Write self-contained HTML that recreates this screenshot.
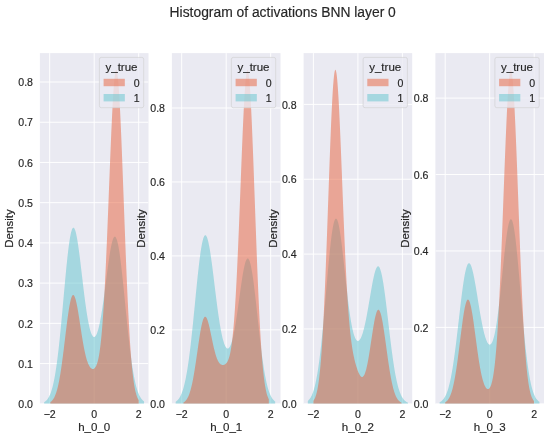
<!DOCTYPE html>
<html lang="en"><head><meta charset="utf-8"><title>Histogram of activations BNN layer 0</title>
<style>html,body{margin:0;padding:0;background:#fff}svg{display:block}text{stroke:#262626;stroke-width:0.16px;paint-order:stroke fill}</style></head>
<body>
<svg width="550" height="437" viewBox="0 0 550 437" font-family="Liberation Sans, sans-serif" fill="#262626">
<rect width="550" height="437" fill="#fff"/>
<text x="282.7" y="17.1" font-size="13.85" text-anchor="middle">Histogram of activations BNN layer 0</text>
<g>
<text transform="translate(13.0,228.5) rotate(-90)" font-size="11.54" text-anchor="middle">Density</text>
<rect x="39.9" y="53.1" width="108.6" height="350.7" fill="#eaeaf2"/>
<clipPath id="c0"><rect x="39.9" y="53.1" width="108.6" height="350.7"/></clipPath>
<path d="M49.70,53.1V403.8M94.20,53.1V403.8M138.70,53.1V403.8M39.9,403.80H148.5M39.9,363.57H148.5M39.9,323.35H148.5M39.9,283.12H148.5M39.9,242.90H148.5M39.9,202.68H148.5M39.9,162.45H148.5M39.9,122.23H148.5M39.9,82.00H148.5" stroke="#fff" stroke-width="0.96" fill="none" clip-path="url(#c0)"/>
<path d="M44.14,403.80L44.14,402.15L44.59,401.89L45.05,401.59L45.51,401.25L45.96,400.87L46.42,400.44L46.87,399.96L47.33,399.41L47.79,398.80L48.24,398.12L48.70,397.36L49.16,396.52L49.61,395.59L50.07,394.56L50.52,393.42L50.98,392.17L51.44,390.80L51.89,389.31L52.35,387.68L52.80,385.90L53.26,383.99L53.72,381.91L54.17,379.68L54.63,377.28L55.09,374.71L55.54,371.96L56.00,369.04L56.45,365.94L56.91,362.66L57.37,359.20L57.82,355.56L58.28,351.75L58.74,347.77L59.19,343.62L59.65,339.32L60.10,334.87L60.56,330.29L61.02,325.59L61.47,320.77L61.93,315.87L62.38,310.89L62.84,305.86L63.30,300.80L63.75,295.72L64.21,290.65L64.67,285.63L65.12,280.66L65.58,275.77L66.03,271.00L66.49,266.36L66.95,261.88L67.40,257.59L67.86,253.51L68.31,249.66L68.77,246.07L69.23,242.76L69.68,239.73L70.14,237.02L70.60,234.64L71.05,232.60L71.51,230.90L71.96,229.57L72.42,228.59L72.88,227.98L73.33,227.74L73.79,227.86L74.25,228.33L74.70,229.16L75.16,230.32L75.61,231.81L76.07,233.61L76.53,235.70L76.98,238.07L77.44,240.70L77.89,243.56L78.35,246.63L78.81,249.88L79.26,253.31L79.72,256.87L80.18,260.55L80.63,264.31L81.09,268.15L81.54,272.02L82.00,275.92L82.46,279.81L82.91,283.68L83.37,287.50L83.82,291.27L84.28,294.95L84.74,298.54L85.19,302.02L85.65,305.37L86.11,308.59L86.56,311.67L87.02,314.59L87.47,317.35L87.93,319.94L88.39,322.36L88.84,324.60L89.30,326.66L89.76,328.53L90.21,330.22L90.67,331.72L91.12,333.04L91.58,334.16L92.04,335.10L92.49,335.85L92.95,336.41L93.40,336.78L93.86,336.97L94.32,336.97L94.77,336.79L95.23,336.42L95.69,335.87L96.14,335.14L96.60,334.22L97.05,333.13L97.51,331.85L97.97,330.40L98.42,328.78L98.88,326.98L99.33,325.02L99.79,322.89L100.25,320.60L100.70,318.15L101.16,315.56L101.62,312.82L102.07,309.95L102.53,306.96L102.98,303.85L103.44,300.64L103.90,297.34L104.35,293.96L104.81,290.52L105.27,287.03L105.72,283.51L106.18,279.98L106.63,276.46L107.09,272.97L107.55,269.52L108.00,266.13L108.46,262.84L108.91,259.65L109.37,256.59L109.83,253.68L110.28,250.94L110.74,248.39L111.20,246.05L111.65,243.93L112.11,242.06L112.56,240.44L113.02,239.10L113.48,238.05L113.93,237.29L114.39,236.83L114.84,236.69L115.30,236.86L115.76,237.35L116.21,238.16L116.67,239.29L117.13,240.73L117.58,242.48L118.04,244.53L118.49,246.86L118.95,249.48L119.41,252.36L119.86,255.49L120.32,258.85L120.78,262.43L121.23,266.21L121.69,270.16L122.14,274.27L122.60,278.52L123.06,282.87L123.51,287.33L123.97,291.85L124.42,296.43L124.88,301.03L125.34,305.65L125.79,310.26L126.25,314.84L126.71,319.37L127.16,323.85L127.62,328.25L128.07,332.56L128.53,336.76L128.99,340.86L129.44,344.83L129.90,348.67L130.35,352.36L130.81,355.92L131.27,359.32L131.72,362.57L132.18,365.67L132.64,368.60L133.09,371.39L133.55,374.01L134.00,376.48L134.46,378.80L134.92,380.98L135.37,383.01L135.83,384.90L136.29,386.65L136.74,388.28L137.20,389.78L137.65,391.16L138.11,392.43L138.57,393.60L139.02,394.66L139.48,395.64L139.93,396.52L140.39,397.32L140.85,398.05L141.30,398.71L141.76,399.30L142.22,399.83L142.67,400.30L143.13,400.73L143.58,401.11L144.04,401.45L144.04,403.80Z" fill="#60c4ce" fill-opacity="0.5" clip-path="url(#c0)"/>
<path d="M50.37,403.80L50.37,402.08L50.77,401.80L51.17,401.49L51.58,401.14L51.98,400.75L52.38,400.30L52.79,399.80L53.19,399.24L53.59,398.61L54.00,397.92L54.40,397.15L54.80,396.30L55.21,395.36L55.61,394.33L56.01,393.21L56.42,391.98L56.82,390.65L57.22,389.20L57.63,387.64L58.03,385.96L58.43,384.15L58.84,382.23L59.24,380.17L59.64,377.99L60.05,375.68L60.45,373.25L60.85,370.70L61.26,368.02L61.66,365.24L62.06,362.34L62.47,359.35L62.87,356.27L63.27,353.11L63.68,349.88L64.08,346.59L64.48,343.27L64.89,339.92L65.29,336.57L65.69,333.22L66.10,329.90L66.50,326.63L66.90,323.43L67.31,320.31L67.71,317.29L68.11,314.40L68.52,311.65L68.92,309.06L69.32,306.65L69.73,304.43L70.13,302.42L70.53,300.63L70.94,299.07L71.34,297.76L71.74,296.69L72.15,295.89L72.55,295.34L72.95,295.06L73.36,295.04L73.76,295.27L74.16,295.76L74.57,296.50L74.97,297.47L75.37,298.67L75.78,300.08L76.18,301.70L76.58,303.49L76.99,305.46L77.39,307.58L77.79,309.82L78.20,312.19L78.60,314.64L79.00,317.17L79.41,319.76L79.81,322.38L80.22,325.03L80.62,327.67L81.02,330.31L81.43,332.91L81.83,335.47L82.23,337.97L82.64,340.41L83.04,342.76L83.44,345.03L83.85,347.20L84.25,349.27L84.65,351.24L85.06,353.09L85.46,354.84L85.86,356.47L86.27,357.99L86.67,359.39L87.07,360.69L87.48,361.87L87.88,362.96L88.28,363.94L88.69,364.82L89.09,365.61L89.49,366.30L89.90,366.91L90.30,367.44L90.70,367.89L91.11,368.26L91.51,368.55L91.91,368.77L92.32,368.91L92.72,368.98L93.12,368.97L93.53,368.88L93.93,368.70L94.33,368.44L94.74,368.08L95.14,367.61L95.54,367.03L95.95,366.32L96.35,365.48L96.75,364.48L97.16,363.32L97.56,361.97L97.96,360.43L98.37,358.67L98.77,356.67L99.17,354.41L99.58,351.88L99.98,349.05L100.38,345.90L100.79,342.42L101.19,338.59L101.59,334.39L102.00,329.80L102.40,324.81L102.80,319.41L103.21,313.59L103.61,307.34L104.01,300.67L104.42,293.58L104.82,286.06L105.22,278.14L105.63,269.83L106.03,261.15L106.43,252.12L106.84,242.79L107.24,233.17L107.64,223.32L108.05,213.29L108.45,203.12L108.85,192.87L109.26,182.61L109.66,172.39L110.06,162.28L110.47,152.35L110.87,142.68L111.27,133.33L111.68,124.38L112.08,115.89L112.48,107.94L112.89,100.59L113.29,93.90L113.69,87.94L114.10,82.75L114.50,78.38L114.90,74.88L115.31,72.27L115.71,70.59L116.11,69.85L116.52,70.05L116.92,71.21L117.32,73.31L117.73,76.33L118.13,80.26L118.53,85.06L118.94,90.70L119.34,97.12L119.74,104.28L120.15,112.12L120.55,120.57L120.95,129.57L121.36,139.06L121.76,148.96L122.16,159.21L122.57,169.72L122.97,180.43L123.37,191.28L123.78,202.18L124.18,213.08L124.58,223.92L124.99,234.63L125.39,245.18L125.79,255.49L126.20,265.54L126.60,275.29L127.00,284.70L127.41,293.74L127.81,302.39L128.21,310.63L128.62,318.45L129.02,325.85L129.42,332.81L129.83,339.34L130.23,345.44L130.63,351.11L131.04,356.38L131.44,361.24L131.84,365.71L132.25,369.82L132.65,373.57L133.05,376.98L133.46,380.08L133.86,382.88L134.26,385.41L134.67,387.68L135.07,389.70L135.47,391.51L135.88,393.12L136.28,394.55L136.68,395.81L137.09,396.91L137.49,397.88L137.89,398.73L138.30,399.47L138.70,400.12L138.70,403.80Z" fill="#e85f3a" fill-opacity="0.5" clip-path="url(#c0)"/>
<text x="49.7" y="417.7" font-size="10.58" text-anchor="middle">−2</text>
<text x="94.2" y="417.7" font-size="10.58" text-anchor="middle">0</text>
<text x="138.7" y="417.7" font-size="10.58" text-anchor="middle">2</text>
<text x="33.0" y="407.9" font-size="10.58" text-anchor="end">0.0</text>
<text x="33.0" y="367.7" font-size="10.58" text-anchor="end">0.1</text>
<text x="33.0" y="327.5" font-size="10.58" text-anchor="end">0.2</text>
<text x="33.0" y="287.2" font-size="10.58" text-anchor="end">0.3</text>
<text x="33.0" y="247.0" font-size="10.58" text-anchor="end">0.4</text>
<text x="33.0" y="206.8" font-size="10.58" text-anchor="end">0.5</text>
<text x="33.0" y="166.6" font-size="10.58" text-anchor="end">0.6</text>
<text x="33.0" y="126.3" font-size="10.58" text-anchor="end">0.7</text>
<text x="33.0" y="86.1" font-size="10.58" text-anchor="end">0.8</text>
<text x="94.2" y="431.4" font-size="11.54" text-anchor="middle">h_0_0</text>
<rect x="99.4" y="57.4" width="44.3" height="50.3" rx="1.9" fill="#eaeaf2" fill-opacity="0.8" stroke="#cccccc" stroke-opacity="0.6" stroke-width="0.96"/>
<text x="121.5" y="70.8" font-size="11.54" text-anchor="middle">y_true</text>
<rect x="103.6" y="78.8" width="21.2" height="7.4" fill="#e85f3a" fill-opacity="0.5"/>
<rect x="103.6" y="94.0" width="21.2" height="7.4" fill="#60c4ce" fill-opacity="0.5"/>
<text x="133.7" y="86.9" font-size="10.58">0</text>
<text x="133.7" y="102.1" font-size="10.58">1</text>
</g>
<g>
<text transform="translate(145.0,228.5) rotate(-90)" font-size="11.54" text-anchor="middle">Density</text>
<rect x="171.9" y="53.1" width="108.6" height="350.7" fill="#eaeaf2"/>
<clipPath id="c1"><rect x="171.9" y="53.1" width="108.6" height="350.7"/></clipPath>
<path d="M181.70,53.1V403.8M226.20,53.1V403.8M270.70,53.1V403.8M171.9,403.80H280.5M171.9,329.85H280.5M171.9,255.90H280.5M171.9,181.95H280.5M171.9,108.00H280.5" stroke="#fff" stroke-width="0.96" fill="none" clip-path="url(#c1)"/>
<path d="M175.69,403.80L175.69,401.71L176.15,401.40L176.60,401.06L177.05,400.68L177.51,400.25L177.96,399.76L178.42,399.23L178.87,398.63L179.33,397.97L179.78,397.24L180.23,396.43L180.69,395.54L181.14,394.56L181.60,393.49L182.05,392.32L182.50,391.04L182.96,389.66L183.41,388.15L183.87,386.52L184.32,384.76L184.78,382.86L185.23,380.83L185.68,378.66L186.14,376.33L186.59,373.85L187.05,371.23L187.50,368.44L187.95,365.50L188.41,362.40L188.86,359.15L189.32,355.74L189.77,352.19L190.23,348.49L190.68,344.64L191.13,340.67L191.59,336.57L192.04,332.36L192.50,328.04L192.95,323.63L193.40,319.15L193.86,314.60L194.31,310.00L194.77,305.38L195.22,300.74L195.67,296.11L196.13,291.51L196.58,286.96L197.04,282.47L197.49,278.08L197.95,273.79L198.40,269.64L198.85,265.64L199.31,261.82L199.76,258.19L200.22,254.77L200.67,251.58L201.12,248.64L201.58,245.96L202.03,243.56L202.49,241.44L202.94,239.63L203.40,238.12L203.85,236.93L204.30,236.06L204.76,235.50L205.21,235.27L205.67,235.36L206.12,235.77L206.57,236.49L207.03,237.51L207.48,238.82L207.94,240.41L208.39,242.27L208.84,244.39L209.30,246.74L209.75,249.32L210.21,252.09L210.66,255.05L211.12,258.18L211.57,261.45L212.02,264.84L212.48,268.34L212.93,271.92L213.39,275.56L213.84,279.24L214.29,282.96L214.75,286.67L215.20,290.38L215.66,294.05L216.11,297.69L216.57,301.26L217.02,304.76L217.47,308.18L217.93,311.50L218.38,314.72L218.84,317.81L219.29,320.79L219.74,323.63L220.20,326.34L220.65,328.90L221.11,331.32L221.56,333.59L222.02,335.70L222.47,337.66L222.92,339.46L223.38,341.10L223.83,342.58L224.29,343.90L224.74,345.06L225.19,346.05L225.65,346.88L226.10,347.54L226.56,348.05L227.01,348.38L227.46,348.55L227.92,348.56L228.37,348.39L228.83,348.06L229.28,347.56L229.74,346.90L230.19,346.06L230.64,345.06L231.10,343.88L231.55,342.54L232.01,341.03L232.46,339.36L232.91,337.53L233.37,335.53L233.82,333.38L234.28,331.08L234.73,328.64L235.19,326.06L235.64,323.35L236.09,320.52L236.55,317.59L237.00,314.55L237.46,311.44L237.91,308.25L238.36,305.02L238.82,301.74L239.27,298.45L239.73,295.16L240.18,291.89L240.64,288.66L241.09,285.48L241.54,282.39L242.00,279.40L242.45,276.54L242.91,273.82L243.36,271.26L243.81,268.89L244.27,266.72L244.72,264.77L245.18,263.06L245.63,261.61L246.08,260.42L246.54,259.50L246.99,258.88L247.45,258.55L247.90,258.53L248.36,258.81L248.81,259.39L249.26,260.28L249.72,261.48L250.17,262.97L250.63,264.75L251.08,266.81L251.53,269.13L251.99,271.72L252.44,274.54L252.90,277.59L253.35,280.84L253.81,284.28L254.26,287.89L254.71,291.64L255.17,295.52L255.62,299.51L256.08,303.58L256.53,307.71L256.98,311.88L257.44,316.08L257.89,320.27L258.35,324.45L258.80,328.60L259.25,332.69L259.71,336.72L260.16,340.67L260.62,344.52L261.07,348.26L261.53,351.89L261.98,355.40L262.43,358.78L262.89,362.01L263.34,365.11L263.80,368.06L264.25,370.86L264.70,373.51L265.16,376.02L265.61,378.37L266.07,380.59L266.52,382.65L266.98,384.58L267.43,386.38L267.88,388.04L268.34,389.58L268.79,391.00L269.25,392.30L269.70,393.50L270.15,394.59L270.61,395.59L271.06,396.49L271.52,397.31L271.97,398.05L272.43,398.72L272.88,399.33L273.33,399.87L273.79,400.35L274.24,400.78L274.70,401.16L275.15,401.50L275.15,403.80Z" fill="#60c4ce" fill-opacity="0.5" clip-path="url(#c1)"/>
<path d="M183.48,403.80L183.48,402.40L183.87,402.18L184.26,401.92L184.65,401.63L185.04,401.30L185.43,400.93L185.82,400.51L186.21,400.04L186.60,399.52L186.99,398.94L187.38,398.29L187.77,397.58L188.16,396.79L188.55,395.93L188.93,394.98L189.32,393.95L189.71,392.82L190.10,391.60L190.49,390.29L190.88,388.87L191.27,387.35L191.66,385.73L192.05,384.00L192.44,382.17L192.83,380.23L193.22,378.19L193.61,376.06L194.00,373.82L194.39,371.50L194.78,369.09L195.17,366.61L195.56,364.05L195.95,361.44L196.34,358.79L196.73,356.09L197.12,353.38L197.51,350.65L197.90,347.94L198.29,345.24L198.68,342.58L199.07,339.97L199.45,337.43L199.84,334.97L200.23,332.61L200.62,330.37L201.01,328.26L201.40,326.30L201.79,324.49L202.18,322.85L202.57,321.39L202.96,320.12L203.35,319.05L203.74,318.18L204.13,317.51L204.52,317.06L204.91,316.81L205.30,316.77L205.69,316.93L206.08,317.29L206.47,317.84L206.86,318.58L207.25,319.49L207.64,320.56L208.03,321.78L208.42,323.14L208.81,324.62L209.20,326.20L209.59,327.87L209.97,329.62L210.36,331.43L210.75,333.28L211.14,335.16L211.53,337.05L211.92,338.93L212.31,340.81L212.70,342.65L213.09,344.46L213.48,346.22L213.87,347.91L214.26,349.54L214.65,351.10L215.04,352.57L215.43,353.96L215.82,355.27L216.21,356.48L216.60,357.60L216.99,358.63L217.38,359.57L217.77,360.42L218.16,361.18L218.55,361.86L218.94,362.46L219.33,362.99L219.72,363.44L220.11,363.83L220.49,364.15L220.88,364.41L221.27,364.62L221.66,364.78L222.05,364.89L222.44,364.96L222.83,364.98L223.22,364.96L223.61,364.90L224.00,364.80L224.39,364.65L224.78,364.47L225.17,364.23L225.56,363.94L225.95,363.60L226.34,363.18L226.73,362.70L227.12,362.13L227.51,361.46L227.90,360.69L228.29,359.80L228.68,358.77L229.07,357.59L229.46,356.24L229.85,354.71L230.24,352.97L230.63,351.00L231.01,348.79L231.40,346.31L231.79,343.55L232.18,340.48L232.57,337.08L232.96,333.34L233.35,329.23L233.74,324.75L234.13,319.88L234.52,314.60L234.91,308.92L235.30,302.81L235.69,296.29L236.08,289.35L236.47,282.00L236.86,274.24L237.25,266.11L237.64,257.61L238.03,248.77L238.42,239.62L238.81,230.20L239.20,220.55L239.59,210.72L239.98,200.75L240.37,190.70L240.76,180.63L241.15,170.60L241.53,160.69L241.92,150.95L242.31,141.45L242.70,132.27L243.09,123.48L243.48,115.15L243.87,107.33L244.26,100.11L244.65,93.54L245.04,87.67L245.43,82.56L245.82,78.27L246.21,74.82L246.60,72.24L246.99,70.58L247.38,69.84L247.77,70.04L248.16,71.17L248.55,73.23L248.94,76.20L249.33,80.07L249.72,84.80L250.11,90.36L250.50,96.69L250.89,103.76L251.28,111.50L251.67,119.85L252.05,128.76L252.44,138.15L252.83,147.96L253.22,158.11L253.61,168.54L254.00,179.17L254.39,189.94L254.78,200.78L255.17,211.63L255.56,222.42L255.95,233.10L256.34,243.61L256.73,253.91L257.12,263.95L257.51,273.70L257.90,283.11L258.29,292.17L258.68,300.85L259.07,309.13L259.46,316.99L259.85,324.43L260.24,331.44L260.63,338.03L261.02,344.18L261.41,349.92L261.80,355.25L262.19,360.17L262.57,364.71L262.96,368.88L263.35,372.70L263.74,376.17L264.13,379.33L264.52,382.19L264.91,384.78L265.30,387.10L265.69,389.18L266.08,391.04L266.47,392.69L266.86,394.16L267.25,395.46L267.64,396.60L268.03,397.61L268.42,398.49L268.81,399.26L268.81,403.80Z" fill="#e85f3a" fill-opacity="0.5" clip-path="url(#c1)"/>
<text x="181.7" y="417.7" font-size="10.58" text-anchor="middle">−2</text>
<text x="226.2" y="417.7" font-size="10.58" text-anchor="middle">0</text>
<text x="270.7" y="417.7" font-size="10.58" text-anchor="middle">2</text>
<text x="165.0" y="407.9" font-size="10.58" text-anchor="end">0.0</text>
<text x="165.0" y="334.0" font-size="10.58" text-anchor="end">0.2</text>
<text x="165.0" y="260.0" font-size="10.58" text-anchor="end">0.4</text>
<text x="165.0" y="186.1" font-size="10.58" text-anchor="end">0.6</text>
<text x="165.0" y="112.1" font-size="10.58" text-anchor="end">0.8</text>
<text x="226.2" y="431.4" font-size="11.54" text-anchor="middle">h_0_1</text>
<rect x="231.4" y="57.4" width="44.3" height="50.3" rx="1.9" fill="#eaeaf2" fill-opacity="0.8" stroke="#cccccc" stroke-opacity="0.6" stroke-width="0.96"/>
<text x="253.5" y="70.8" font-size="11.54" text-anchor="middle">y_true</text>
<rect x="235.6" y="78.8" width="21.2" height="7.4" fill="#e85f3a" fill-opacity="0.5"/>
<rect x="235.6" y="94.0" width="21.2" height="7.4" fill="#60c4ce" fill-opacity="0.5"/>
<text x="265.7" y="86.9" font-size="10.58">0</text>
<text x="265.7" y="102.1" font-size="10.58">1</text>
</g>
<g>
<text transform="translate(276.7,228.5) rotate(-90)" font-size="11.54" text-anchor="middle">Density</text>
<rect x="303.6" y="53.1" width="108.6" height="350.7" fill="#eaeaf2"/>
<clipPath id="c2"><rect x="303.6" y="53.1" width="108.6" height="350.7"/></clipPath>
<path d="M313.40,53.1V403.8M357.90,53.1V403.8M402.40,53.1V403.8M303.6,403.80H412.20000000000005M303.6,328.94H412.20000000000005M303.6,254.08H412.20000000000005M303.6,179.22H412.20000000000005M303.6,104.36H412.20000000000005" stroke="#fff" stroke-width="0.96" fill="none" clip-path="url(#c2)"/>
<path d="M307.84,403.80L307.84,400.99L308.29,400.58L308.75,400.11L309.21,399.59L309.67,399.01L310.12,398.36L310.58,397.63L311.04,396.83L311.50,395.93L311.95,394.95L312.41,393.86L312.87,392.66L313.32,391.35L313.78,389.91L314.24,388.34L314.70,386.64L315.15,384.78L315.61,382.78L316.07,380.62L316.52,378.30L316.98,375.80L317.44,373.14L317.90,370.29L318.35,367.26L318.81,364.05L319.27,360.66L319.72,357.08L320.18,353.32L320.64,349.38L321.10,345.27L321.55,340.99L322.01,336.54L322.47,331.95L322.92,327.21L323.38,322.35L323.84,317.37L324.30,312.30L324.75,307.14L325.21,301.93L325.67,296.67L326.13,291.39L326.58,286.12L327.04,280.88L327.50,275.70L327.95,270.59L328.41,265.58L328.87,260.71L329.33,255.99L329.78,251.46L330.24,247.13L330.70,243.03L331.15,239.19L331.61,235.62L332.07,232.36L332.53,229.40L332.98,226.78L333.44,224.51L333.90,222.60L334.35,221.05L334.81,219.88L335.27,219.09L335.73,218.68L336.18,218.65L336.64,219.00L337.10,219.73L337.55,220.81L338.01,222.25L338.47,224.02L338.93,226.12L339.38,228.52L339.84,231.20L340.30,234.15L340.76,237.33L341.21,240.74L341.67,244.33L342.13,248.10L342.58,252.00L343.04,256.02L343.50,260.12L343.96,264.29L344.41,268.50L344.87,272.73L345.33,276.95L345.78,281.13L346.24,285.27L346.70,289.34L347.16,293.31L347.61,297.19L348.07,300.94L348.53,304.56L348.98,308.04L349.44,311.37L349.90,314.53L350.36,317.52L350.81,320.33L351.27,322.97L351.73,325.42L352.19,327.69L352.64,329.78L353.10,331.68L353.56,333.39L354.01,334.93L354.47,336.28L354.93,337.46L355.39,338.46L355.84,339.28L356.30,339.94L356.76,340.44L357.21,340.77L357.67,340.94L358.13,340.96L358.59,340.83L359.04,340.54L359.50,340.11L359.96,339.53L360.41,338.81L360.87,337.95L361.33,336.95L361.79,335.81L362.24,334.54L362.70,333.15L363.16,331.62L363.61,329.97L364.07,328.19L364.53,326.30L364.99,324.30L365.44,322.19L365.90,319.97L366.36,317.67L366.82,315.28L367.27,312.81L367.73,310.27L368.19,307.67L368.64,305.03L369.10,302.36L369.56,299.67L370.02,296.97L370.47,294.29L370.93,291.63L371.39,289.01L371.84,286.45L372.30,283.97L372.76,281.59L373.22,279.32L373.67,277.17L374.13,275.18L374.59,273.35L375.04,271.69L375.50,270.24L375.96,268.99L376.42,267.97L376.87,267.18L377.33,266.63L377.79,266.33L378.25,266.30L378.70,266.53L379.16,267.03L379.62,267.79L380.07,268.83L380.53,270.13L380.99,271.69L381.45,273.50L381.90,275.56L382.36,277.86L382.82,280.38L383.27,283.11L383.73,286.04L384.19,289.15L384.65,292.42L385.10,295.84L385.56,299.38L386.02,303.04L386.47,306.78L386.93,310.60L387.39,314.47L387.85,318.37L388.30,322.29L388.76,326.20L389.22,330.10L389.67,333.96L390.13,337.77L390.59,341.52L391.05,345.19L391.50,348.77L391.96,352.25L392.42,355.62L392.88,358.88L393.33,362.01L393.79,365.02L394.25,367.89L394.70,370.63L395.16,373.23L395.62,375.69L396.08,378.01L396.53,380.20L396.99,382.25L397.45,384.17L397.90,385.96L398.36,387.63L398.82,389.17L399.28,390.60L399.73,391.91L400.19,393.12L400.65,394.23L401.10,395.24L401.56,396.17L402.02,397.01L402.48,397.77L402.93,398.46L403.39,399.08L403.85,399.64L404.30,400.14L404.76,400.59L405.22,400.99L405.68,401.34L406.13,401.66L406.59,401.94L407.05,402.18L407.51,402.40L407.96,402.59L407.96,403.80Z" fill="#60c4ce" fill-opacity="0.5" clip-path="url(#c2)"/>
<path d="M313.40,403.80L313.40,400.83L313.80,400.27L314.20,399.62L314.61,398.87L315.01,398.00L315.41,397.00L315.81,395.85L316.22,394.54L316.62,393.05L317.02,391.35L317.42,389.44L317.83,387.28L318.23,384.86L318.63,382.15L319.03,379.14L319.43,375.79L319.84,372.10L320.24,368.03L320.64,363.56L321.04,358.69L321.45,353.38L321.85,347.63L322.25,341.42L322.65,334.75L323.06,327.60L323.46,319.99L323.86,311.90L324.26,303.36L324.67,294.37L325.07,284.96L325.47,275.15L325.87,264.97L326.27,254.46L326.68,243.67L327.08,232.64L327.48,221.44L327.88,210.12L328.29,198.74L328.69,187.39L329.09,176.14L329.49,165.05L329.90,154.22L330.30,143.72L330.70,133.64L331.10,124.04L331.50,115.03L331.91,106.65L332.31,99.00L332.71,92.12L333.11,86.09L333.52,80.95L333.92,76.74L334.32,73.51L334.72,71.28L335.13,70.06L335.53,69.86L335.93,70.68L336.33,72.50L336.74,75.30L337.14,79.05L337.54,83.71L337.94,89.22L338.34,95.53L338.75,102.58L339.15,110.30L339.55,118.61L339.95,127.43L340.36,136.70L340.76,146.32L341.16,156.22L341.56,166.31L341.97,176.53L342.37,186.79L342.77,197.03L343.17,207.18L343.57,217.17L343.98,226.96L344.38,236.50L344.78,245.73L345.18,254.63L345.59,263.17L345.99,271.32L346.39,279.06L346.79,286.38L347.20,293.28L347.60,299.76L348.00,305.82L348.40,311.46L348.80,316.71L349.21,321.58L349.61,326.08L350.01,330.23L350.41,334.06L350.82,337.59L351.22,340.84L351.62,343.83L352.02,346.59L352.43,349.14L352.83,351.50L353.23,353.69L353.63,355.72L354.04,357.62L354.44,359.40L354.84,361.07L355.24,362.64L355.64,364.12L356.05,365.52L356.45,366.85L356.85,368.10L357.25,369.28L357.66,370.39L358.06,371.43L358.46,372.40L358.86,373.29L359.27,374.09L359.67,374.81L360.07,375.44L360.47,375.97L360.87,376.39L361.28,376.70L361.68,376.89L362.08,376.96L362.48,376.89L362.89,376.69L363.29,376.34L363.69,375.85L364.09,375.20L364.50,374.40L364.90,373.44L365.30,372.33L365.70,371.06L366.11,369.63L366.51,368.05L366.91,366.32L367.31,364.45L367.71,362.45L368.12,360.31L368.52,358.06L368.92,355.71L369.32,353.26L369.73,350.73L370.13,348.13L370.53,345.49L370.93,342.81L371.34,340.12L371.74,337.43L372.14,334.76L372.54,332.14L372.94,329.58L373.35,327.09L373.75,324.71L374.15,322.45L374.55,320.32L374.96,318.35L375.36,316.55L375.76,314.94L376.16,313.52L376.57,312.32L376.97,311.34L377.37,310.60L377.77,310.09L378.17,309.82L378.58,309.80L378.98,310.03L379.38,310.50L379.78,311.22L380.19,312.17L380.59,313.35L380.99,314.76L381.39,316.37L381.80,318.19L382.20,320.19L382.60,322.36L383.00,324.68L383.41,327.14L383.81,329.72L384.21,332.41L384.61,335.18L385.01,338.02L385.42,340.91L385.82,343.84L386.22,346.78L386.62,349.72L387.03,352.64L387.43,355.54L387.83,358.39L388.23,361.19L388.64,363.92L389.04,366.58L389.44,369.15L389.84,371.63L390.24,374.02L390.65,376.30L391.05,378.47L391.45,380.53L391.85,382.49L392.26,384.33L392.66,386.05L393.06,387.67L393.46,389.18L393.87,390.59L394.27,391.89L394.67,393.09L395.07,394.20L395.48,395.21L395.88,396.14L396.28,396.98L396.68,397.75L397.08,398.45L397.49,399.08L397.89,399.64L398.29,400.15L398.69,400.61L399.10,401.01L399.50,401.37L399.90,401.69L400.30,401.97L400.71,402.22L401.11,402.44L401.51,402.63L401.51,403.80Z" fill="#e85f3a" fill-opacity="0.5" clip-path="url(#c2)"/>
<text x="313.4" y="417.7" font-size="10.58" text-anchor="middle">−2</text>
<text x="357.9" y="417.7" font-size="10.58" text-anchor="middle">0</text>
<text x="402.4" y="417.7" font-size="10.58" text-anchor="middle">2</text>
<text x="296.7" y="407.9" font-size="10.58" text-anchor="end">0.0</text>
<text x="296.7" y="333.0" font-size="10.58" text-anchor="end">0.2</text>
<text x="296.7" y="258.2" font-size="10.58" text-anchor="end">0.4</text>
<text x="296.7" y="183.3" font-size="10.58" text-anchor="end">0.6</text>
<text x="296.7" y="108.5" font-size="10.58" text-anchor="end">0.8</text>
<text x="357.9" y="431.4" font-size="11.54" text-anchor="middle">h_0_2</text>
<rect x="363.1" y="57.4" width="44.3" height="50.3" rx="1.9" fill="#eaeaf2" fill-opacity="0.8" stroke="#cccccc" stroke-opacity="0.6" stroke-width="0.96"/>
<text x="385.2" y="70.8" font-size="11.54" text-anchor="middle">y_true</text>
<rect x="367.3" y="78.8" width="21.2" height="7.4" fill="#e85f3a" fill-opacity="0.5"/>
<rect x="367.3" y="94.0" width="21.2" height="7.4" fill="#60c4ce" fill-opacity="0.5"/>
<text x="397.4" y="86.9" font-size="10.58">0</text>
<text x="397.4" y="102.1" font-size="10.58">1</text>
</g>
<g>
<text transform="translate(408.5,228.5) rotate(-90)" font-size="11.54" text-anchor="middle">Density</text>
<rect x="435.4" y="53.1" width="108.6" height="350.7" fill="#eaeaf2"/>
<clipPath id="c3"><rect x="435.4" y="53.1" width="108.6" height="350.7"/></clipPath>
<path d="M445.20,53.1V403.8M489.70,53.1V403.8M534.20,53.1V403.8M435.4,403.80H544.0M435.4,327.38H544.0M435.4,250.96H544.0M435.4,174.54H544.0M435.4,98.12H544.0" stroke="#fff" stroke-width="0.96" fill="none" clip-path="url(#c3)"/>
<path d="M439.64,403.80L439.64,402.26L440.09,402.03L440.55,401.76L441.00,401.46L441.46,401.13L441.92,400.75L442.37,400.32L442.83,399.85L443.28,399.32L443.74,398.73L444.19,398.08L444.65,397.36L445.11,396.56L445.56,395.68L446.02,394.72L446.47,393.66L446.93,392.50L447.38,391.25L447.84,389.88L448.30,388.41L448.75,386.81L449.21,385.09L449.66,383.24L450.12,381.27L450.57,379.15L451.03,376.91L451.48,374.52L451.94,372.00L452.40,369.33L452.85,366.53L453.31,363.59L453.76,360.53L454.22,357.33L454.67,354.01L455.13,350.57L455.59,347.03L456.04,343.39L456.50,339.66L456.95,335.85L457.41,331.98L457.86,328.06L458.32,324.11L458.78,320.14L459.23,316.17L459.69,312.21L460.14,308.30L460.60,304.43L461.05,300.64L461.51,296.93L461.97,293.34L462.42,289.88L462.88,286.56L463.33,283.41L463.79,280.44L464.24,277.67L464.70,275.11L465.15,272.77L465.61,270.67L466.07,268.81L466.52,267.21L466.98,265.88L467.43,264.81L467.89,264.00L468.34,263.47L468.80,263.21L469.26,263.22L469.71,263.49L470.17,264.01L470.62,264.78L471.08,265.79L471.53,267.03L471.99,268.49L472.45,270.14L472.90,271.98L473.36,274.00L473.81,276.17L474.27,278.48L474.72,280.91L475.18,283.44L475.64,286.06L476.09,288.76L476.55,291.51L477.00,294.29L477.46,297.10L477.91,299.92L478.37,302.73L478.82,305.52L479.28,308.28L479.74,310.99L480.19,313.65L480.65,316.24L481.10,318.76L481.56,321.19L482.01,323.54L482.47,325.78L482.93,327.93L483.38,329.96L483.84,331.88L484.29,333.68L484.75,335.36L485.20,336.91L485.66,338.33L486.12,339.62L486.57,340.77L487.03,341.78L487.48,342.64L487.94,343.36L488.39,343.92L488.85,344.33L489.31,344.57L489.76,344.65L490.22,344.57L490.67,344.30L491.13,343.86L491.58,343.24L492.04,342.43L492.49,341.42L492.95,340.22L493.41,338.82L493.86,337.22L494.32,335.41L494.77,333.40L495.23,331.18L495.68,328.75L496.14,326.12L496.60,323.28L497.05,320.24L497.51,317.01L497.96,313.60L498.42,310.01L498.87,306.26L499.33,302.35L499.79,298.30L500.24,294.14L500.70,289.86L501.15,285.51L501.61,281.09L502.06,276.63L502.52,272.16L502.98,267.70L503.43,263.27L503.89,258.90L504.34,254.63L504.80,250.48L505.25,246.48L505.71,242.65L506.16,239.03L506.62,235.64L507.08,232.51L507.53,229.65L507.99,227.11L508.44,224.89L508.90,223.01L509.35,221.50L509.81,220.36L510.27,219.61L510.72,219.25L511.18,219.30L511.63,219.75L512.09,220.61L512.54,221.87L513.00,223.53L513.46,225.57L513.91,227.99L514.37,230.77L514.82,233.90L515.28,237.35L515.73,241.11L516.19,245.14L516.65,249.44L517.10,253.96L517.56,258.69L518.01,263.60L518.47,268.66L518.92,273.84L519.38,279.11L519.84,284.44L520.29,289.82L520.75,295.21L521.20,300.59L521.66,305.93L522.11,311.21L522.57,316.42L523.02,321.52L523.48,326.51L523.94,331.37L524.39,336.08L524.85,340.64L525.30,345.03L525.76,349.24L526.21,353.27L526.67,357.11L527.13,360.76L527.58,364.23L528.04,367.49L528.49,370.57L528.95,373.46L529.40,376.16L529.86,378.68L530.32,381.03L530.77,383.20L531.23,385.22L531.68,387.07L532.14,388.78L532.59,390.34L533.05,391.77L533.51,393.07L533.96,394.26L534.42,395.33L534.87,396.30L535.33,397.18L535.78,397.96L536.24,398.67L536.69,399.30L537.15,399.86L537.61,400.36L538.06,400.81L538.52,401.20L538.97,401.55L539.43,401.85L539.43,403.80Z" fill="#60c4ce" fill-opacity="0.5" clip-path="url(#c3)"/>
<path d="M445.20,403.80L445.20,402.28L445.61,402.03L446.01,401.75L446.42,401.43L446.82,401.07L447.23,400.67L447.63,400.21L448.04,399.70L448.44,399.12L448.85,398.48L449.25,397.77L449.66,396.99L450.06,396.12L450.47,395.16L450.88,394.11L451.28,392.97L451.69,391.72L452.09,390.36L452.50,388.89L452.90,387.31L453.31,385.61L453.71,383.78L454.12,381.83L454.52,379.76L454.93,377.56L455.33,375.23L455.74,372.79L456.15,370.23L456.55,367.55L456.96,364.77L457.36,361.88L457.77,358.90L458.17,355.85L458.58,352.72L458.98,349.53L459.39,346.30L459.79,343.04L460.20,339.77L460.60,336.51L461.01,333.27L461.42,330.07L461.82,326.93L462.23,323.88L462.63,320.92L463.04,318.09L463.44,315.40L463.85,312.86L464.25,310.51L464.66,308.35L465.06,306.39L465.47,304.67L465.87,303.18L466.28,301.94L466.68,300.95L467.09,300.23L467.50,299.78L467.90,299.61L468.31,299.70L468.71,300.07L469.12,300.71L469.52,301.60L469.93,302.75L470.33,304.14L470.74,305.77L471.14,307.61L471.55,309.65L471.95,311.88L472.36,314.28L472.77,316.83L473.17,319.51L473.58,322.30L473.98,325.18L474.39,328.14L474.79,331.15L475.20,334.19L475.60,337.25L476.01,340.30L476.41,343.34L476.82,346.34L477.22,349.30L477.63,352.19L478.04,355.01L478.44,357.74L478.85,360.38L479.25,362.92L479.66,365.35L480.06,367.67L480.47,369.87L480.87,371.94L481.28,373.90L481.68,375.73L482.09,377.44L482.49,379.02L482.90,380.48L483.31,381.82L483.71,383.04L484.12,384.15L484.52,385.14L484.93,386.02L485.33,386.78L485.74,387.44L486.14,387.99L486.55,388.43L486.95,388.75L487.36,388.97L487.76,389.08L488.17,389.07L488.58,388.93L488.98,388.67L489.39,388.28L489.79,387.74L490.20,387.05L490.60,386.20L491.01,385.17L491.41,383.95L491.82,382.53L492.22,380.89L492.63,379.01L493.03,376.88L493.44,374.48L493.85,371.79L494.25,368.79L494.66,365.45L495.06,361.77L495.47,357.73L495.87,353.30L496.28,348.48L496.68,343.25L497.09,337.59L497.49,331.50L497.90,324.97L498.30,318.01L498.71,310.60L499.12,302.76L499.52,294.50L499.93,285.83L500.33,276.77L500.74,267.35L501.14,257.60L501.55,247.54L501.95,237.23L502.36,226.71L502.76,216.03L503.17,205.25L503.57,194.43L503.98,183.63L504.38,172.92L504.79,162.36L505.20,152.05L505.60,142.03L506.01,132.40L506.41,123.22L506.82,114.56L507.22,106.50L507.63,99.09L508.03,92.41L508.44,86.51L508.84,81.44L509.25,77.24L509.65,73.95L510.06,71.60L510.47,70.22L510.87,69.81L511.28,70.38L511.68,71.93L512.09,74.44L512.49,77.89L512.90,82.25L513.30,87.49L513.71,93.56L514.11,100.40L514.52,107.97L514.92,116.20L515.33,125.03L515.74,134.38L516.14,144.18L516.55,154.37L516.95,164.86L517.36,175.58L517.76,186.47L518.17,197.45L518.57,208.45L518.98,219.41L519.38,230.27L519.79,240.97L520.19,251.46L520.60,261.70L521.01,271.64L521.41,281.25L521.82,290.49L522.22,299.35L522.63,307.79L523.03,315.82L523.44,323.41L523.84,330.57L524.25,337.28L524.65,343.56L525.06,349.40L525.46,354.83L525.87,359.84L526.28,364.46L526.68,368.69L527.09,372.56L527.49,376.09L527.90,379.29L528.30,382.19L528.71,384.80L529.11,387.14L529.52,389.24L529.92,391.11L530.33,392.77L530.73,394.25L531.14,395.55L531.55,396.69L531.95,397.70L532.36,398.58L532.76,399.34L533.17,400.00L533.57,400.58L533.98,401.07L533.98,403.80Z" fill="#e85f3a" fill-opacity="0.5" clip-path="url(#c3)"/>
<text x="445.2" y="417.7" font-size="10.58" text-anchor="middle">−2</text>
<text x="489.7" y="417.7" font-size="10.58" text-anchor="middle">0</text>
<text x="534.2" y="417.7" font-size="10.58" text-anchor="middle">2</text>
<text x="428.5" y="407.9" font-size="10.58" text-anchor="end">0.0</text>
<text x="428.5" y="331.5" font-size="10.58" text-anchor="end">0.2</text>
<text x="428.5" y="255.1" font-size="10.58" text-anchor="end">0.4</text>
<text x="428.5" y="178.6" font-size="10.58" text-anchor="end">0.6</text>
<text x="428.5" y="102.2" font-size="10.58" text-anchor="end">0.8</text>
<text x="489.7" y="431.4" font-size="11.54" text-anchor="middle">h_0_3</text>
<rect x="494.9" y="57.4" width="44.3" height="50.3" rx="1.9" fill="#eaeaf2" fill-opacity="0.8" stroke="#cccccc" stroke-opacity="0.6" stroke-width="0.96"/>
<text x="517.0" y="70.8" font-size="11.54" text-anchor="middle">y_true</text>
<rect x="499.1" y="78.8" width="21.2" height="7.4" fill="#e85f3a" fill-opacity="0.5"/>
<rect x="499.1" y="94.0" width="21.2" height="7.4" fill="#60c4ce" fill-opacity="0.5"/>
<text x="529.2" y="86.9" font-size="10.58">0</text>
<text x="529.2" y="102.1" font-size="10.58">1</text>
</g>
</svg>
</body></html>
